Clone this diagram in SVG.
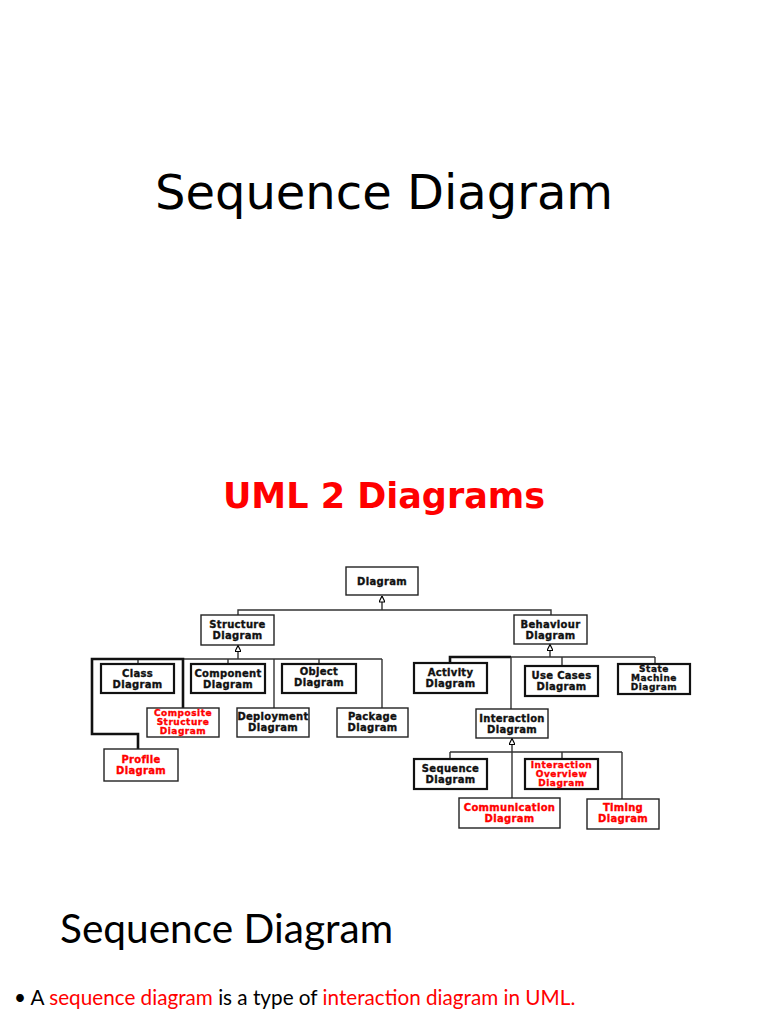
<svg xmlns="http://www.w3.org/2000/svg" width="768" height="1024" viewBox="0 0 768 1024">
<defs>
<style>
.title{font-family:"DejaVu Sans",sans-serif;font-size:48px;fill:#000}
.uml{font-family:"DejaVu Sans",sans-serif;font-weight:bold;font-size:35px;fill:#ff0000}
.sub{font-family:Lato,"Open Sans",sans-serif;font-size:40.6px;fill:#000}
.body{font-family:Lato,"Open Sans",sans-serif;font-size:20.7px;fill:#000}
.red{fill:#ff0000}
.box{fill:#fff;stroke:#222;stroke-width:1.4}
.tbox{fill:#fff;stroke:#111;stroke-width:2.2}
.lbl{font-family:"DejaVu Sans",sans-serif;font-weight:bold;font-size:10px;letter-spacing:0.3px;fill:#111;stroke:#111;stroke-width:0.35;text-anchor:middle}
.sm{font-size:9px;letter-spacing:0.5px}
.rl{fill:#ff0000;stroke:#ff0000}
.ln{stroke:#333;stroke-width:1.4;fill:none}
.th{stroke:#111;stroke-width:2.6;fill:none}
</style>
<marker id="gen" viewBox="0 0 10 10" refX="10" refY="5" markerWidth="7" markerHeight="6" markerUnits="userSpaceOnUse" orient="auto">
<path d="M0,0 L10,5 L0,10 Z" fill="#fff" stroke="#000" stroke-width="2"/>
</marker>
</defs>
<rect width="768" height="1024" fill="#fff"/>
<text class="title" x="384" y="209" text-anchor="middle">Sequence Diagram</text>
<text class="uml" x="384" y="508" text-anchor="middle">UML 2 Diagrams</text>

<g id="connectors">
<line class="ln" x1="382" y1="610" x2="382" y2="596" marker-end="url(#gen)"/>
<polyline class="ln" points="238,615 238,610 551,610 551,615"/>
<line class="ln" x1="238" y1="659" x2="238" y2="645.5" marker-end="url(#gen)"/>
<line class="ln" x1="183" y1="659" x2="382" y2="659"/>
<line class="ln" x1="138" y1="659" x2="138" y2="664"/>
<line class="ln" x1="228" y1="659" x2="228" y2="664"/>
<line class="ln" x1="319" y1="659" x2="319" y2="664"/>
<line class="ln" x1="274" y1="659" x2="274" y2="708"/>
<line class="ln" x1="382" y1="659" x2="382" y2="708"/>
<polyline class="th" points="138,659 92,659 92,734 138,734 138,749"/>
<polyline class="th" points="138,659 183,659 183,708"/>
<line class="ln" x1="550" y1="657" x2="550" y2="644.5" marker-end="url(#gen)"/>
<line class="ln" x1="511" y1="657" x2="655" y2="657"/>
<polyline class="th" points="450,663 450,657 511,657"/>
<line class="ln" x1="511" y1="657" x2="511" y2="709"/>
<line class="ln" x1="562" y1="657" x2="562" y2="666"/>
<line class="ln" x1="655" y1="657" x2="655" y2="664"/>
<line class="ln" x1="512" y1="752" x2="512" y2="738.5" marker-end="url(#gen)"/>
<line class="ln" x1="450" y1="752" x2="622" y2="752"/>
<line class="ln" x1="450" y1="752" x2="450" y2="759"/>
<line class="ln" x1="562" y1="752" x2="562" y2="759"/>
<line class="ln" x1="512" y1="752" x2="512" y2="798"/>
<line class="ln" x1="622" y1="752" x2="622" y2="799"/>
</g>

<g id="diagram"><rect class="box" x="346" y="567" width="72" height="28"/><text class="lbl" x="382" y="585">Diagram</text></g>
<g id="structure"><rect class="box" x="201" y="615" width="73" height="30"/><text class="lbl" x="237.5" y="628">Structure</text><text class="lbl" x="237.5" y="639">Diagram</text></g>
<g id="behaviour"><rect class="box" x="514" y="615" width="73" height="29"/><text class="lbl" x="550.5" y="627.5">Behaviour</text><text class="lbl" x="550.5" y="638.5">Diagram</text></g>
<g id="class"><rect class="tbox" x="101" y="664" width="73" height="29"/><text class="lbl" x="137.5" y="676.5">Class</text><text class="lbl" x="137.5" y="687.5">Diagram</text></g>
<g id="component"><rect class="tbox" x="191" y="664" width="74" height="29"/><text class="lbl" x="228" y="676.5">Component</text><text class="lbl" x="228" y="687.5">Diagram</text></g>
<g id="object"><rect class="tbox" x="282" y="664" width="74" height="29"/><text class="lbl" x="319" y="675">Object</text><text class="lbl" x="319" y="686">Diagram</text></g>
<g id="composite"><rect class="box" x="147" y="708" width="72" height="29"/><text class="lbl sm rl" x="183" y="715.5">Composite</text><text class="lbl sm rl" x="183" y="724.5">Structure</text><text class="lbl sm rl" x="183" y="733.5">Diagram</text></g>
<g id="deployment"><rect class="box" x="237" y="708" width="72" height="29"/><text class="lbl" x="273" y="719.5">Deployment</text><text class="lbl" x="273" y="730.5">Diagram</text></g>
<g id="package"><rect class="box" x="337" y="708" width="71" height="29"/><text class="lbl" x="372.5" y="719.5">Package</text><text class="lbl" x="372.5" y="730.5">Diagram</text></g>
<g id="profile"><rect class="box" x="104" y="749" width="74" height="32"/><text class="lbl rl" x="141" y="763">Profile</text><text class="lbl rl" x="141" y="774">Diagram</text></g>
<g id="activity"><rect class="tbox" x="414" y="663" width="73" height="30"/><text class="lbl" x="450.5" y="675.5">Activity</text><text class="lbl" x="450.5" y="686.5">Diagram</text></g>
<g id="usecases"><rect class="tbox" x="525" y="666" width="73" height="30"/><text class="lbl" x="561.5" y="678.5">Use Cases</text><text class="lbl" x="561.5" y="689.5">Diagram</text></g>
<g id="statemachine"><rect class="tbox" x="618" y="664" width="72" height="30"/><text class="lbl sm" x="654" y="671.5">State</text><text class="lbl sm" x="654" y="681">Machine</text><text class="lbl sm" x="654" y="690">Diagram</text></g>
<g id="interaction"><rect class="box" x="476" y="709" width="72" height="29"/><text class="lbl" x="512" y="721.5">Interaction</text><text class="lbl" x="512" y="732.5">Diagram</text></g>
<g id="sequence"><rect class="tbox" x="414" y="759" width="73" height="30"/><text class="lbl" x="450.5" y="771.5">Sequence</text><text class="lbl" x="450.5" y="782.5">Diagram</text></g>
<g id="interactionoverview"><rect class="tbox" x="525" y="759" width="73" height="30"/><text class="lbl sm rl" x="561.5" y="767.5">Interaction</text><text class="lbl sm rl" x="561.5" y="776.5">Overview</text><text class="lbl sm rl" x="561.5" y="785.5">Diagram</text></g>
<g id="communication"><rect class="box" x="459" y="798" width="101" height="30"/><text class="lbl rl" x="509.5" y="810.5">Communication</text><text class="lbl rl" x="509.5" y="821.5">Diagram</text></g>
<g id="timing"><rect class="box" x="587" y="799" width="72" height="30"/><text class="lbl rl" x="623" y="811">Timing</text><text class="lbl rl" x="623" y="822">Diagram</text></g>

<text class="sub" x="60" y="943">Sequence Diagram</text>
<text class="body" x="14" y="1005">• A <tspan class="red">sequence diagram</tspan> is a type of <tspan class="red">interaction diagram in UML.</tspan></text>
</svg>
